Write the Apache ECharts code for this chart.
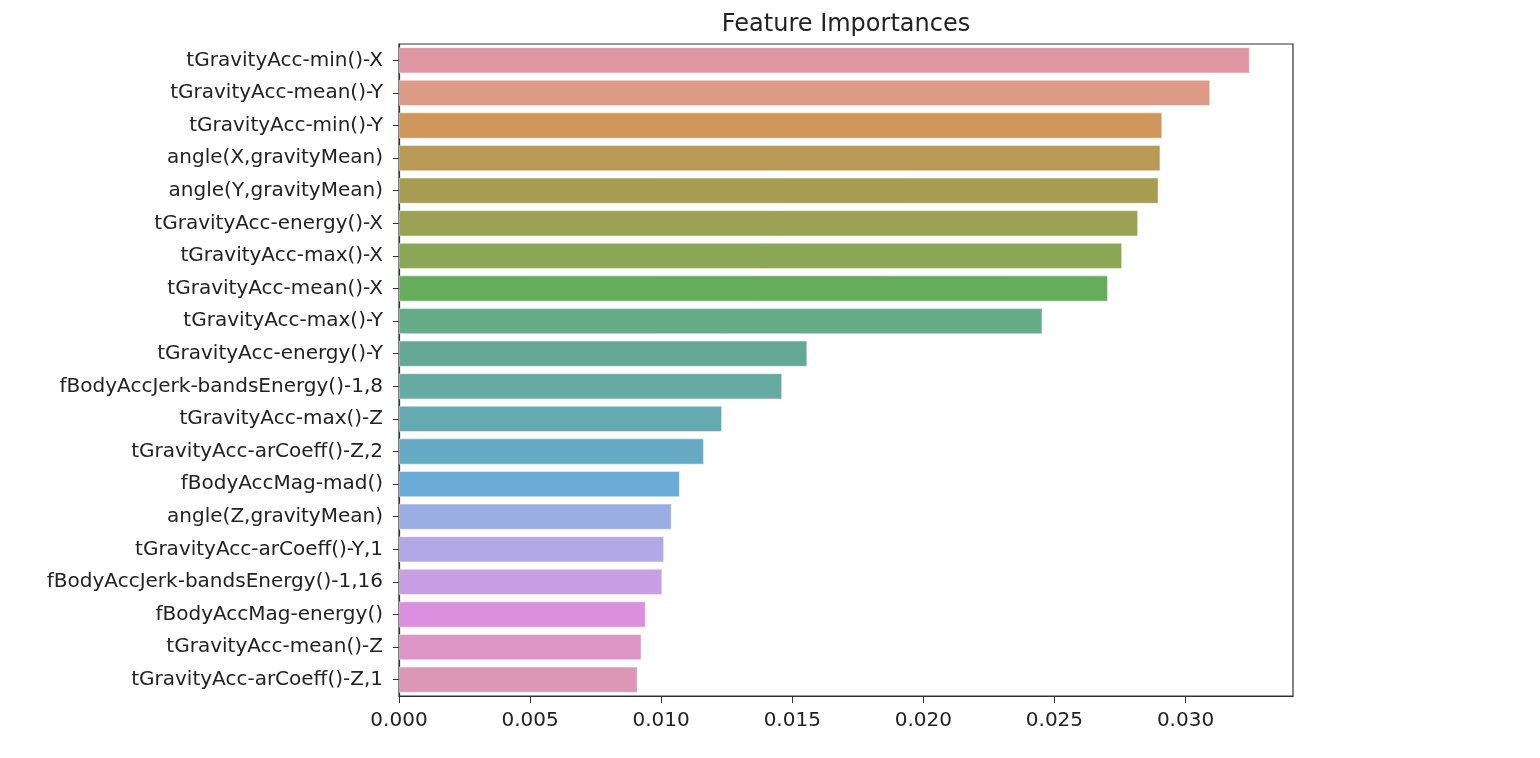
<!DOCTYPE html>
<html>
<head>
<meta charset="utf-8">
<script src="https://cdn.jsdelivr.net/npm/echarts@6/dist/echarts.min.js"></script>
<style>
html,body{margin:0;padding:0;background:#fff;}
#chart{width:1540px;height:758px;}
</style>
</head>
<body>
<div id="chart"></div>
<script>
const features = [
  "tGravityAcc-min()-X",
  "tGravityAcc-mean()-Y",
  "tGravityAcc-min()-Y",
  "angle(X,gravityMean)",
  "angle(Y,gravityMean)",
  "tGravityAcc-energy()-X",
  "tGravityAcc-max()-X",
  "tGravityAcc-mean()-X",
  "tGravityAcc-max()-Y",
  "tGravityAcc-energy()-Y",
  "fBodyAccJerk-bandsEnergy()-1,8",
  "tGravityAcc-max()-Z",
  "tGravityAcc-arCoeff()-Z,2",
  "fBodyAccMag-mad()",
  "angle(Z,gravityMean)",
  "tGravityAcc-arCoeff()-Y,1",
  "fBodyAccJerk-bandsEnergy()-1,16",
  "fBodyAccMag-energy()",
  "tGravityAcc-mean()-Z",
  "tGravityAcc-arCoeff()-Z,1"
];
const importances = [
  0.03245, 0.03094, 0.02911, 0.02904, 0.02897,
  0.02819, 0.02758, 0.02704, 0.02454, 0.01557,
  0.01461, 0.01232, 0.01163, 0.01071, 0.01040,
  0.01011, 0.01004, 0.00941, 0.00925, 0.00910
];
const barColors = [
  "#de97a2", "#dc9a87", "#cf965b", "#b89955", "#a89c52",
  "#9ba254", "#8aa755", "#65ac5c", "#66ab88", "#63a996",
  "#65aaa3", "#65aab0", "#67aac3", "#6aabd8", "#9aaee3",
  "#b3a8e6", "#c89fe4", "#da8fdf", "#dc95c7", "#dc97b5"
];
const xTicks = [0, 0.005, 0.010, 0.015, 0.020, 0.025, 0.030];
const xMax = 0.0341;

const chart = echarts.init(document.getElementById('chart'));
chart.setOption({
  animation: false,
  backgroundColor: '#ffffff',
  title: {
    text: 'Feature Importances',
    left: 841,
    textAlign: 'center',
    top: 8,
    textStyle: {fontFamily: 'DejaVu Sans', fontSize: 24, fontWeight: 'normal', color: '#222'}
  },
  grid: {
    left: 399, right: 247, top: 44, bottom: 62,
    show: true, borderColor: '#333', borderWidth: 1.2, backgroundColor: 'transparent'
  },
  xAxis: {
    type: 'value',
    min: 0,
    max: xMax,
    splitLine: {show: false},
    axisLine: {show: true, onZero: false, lineStyle: {color: '#333', width: 1.2}},
    axisTick: {show: true, length: 7, customValues: xTicks, lineStyle: {color: '#333'}},
    axisLabel: {
      customValues: xTicks,
      formatter: v => v.toFixed(3),
      fontFamily: 'DejaVu Sans', fontSize: 20, color: '#222', margin: 15
    }
  },
  yAxis: {
    type: 'category',
    inverse: true,
    data: features,
    axisLine: {show: true, lineStyle: {color: '#333', width: 1.2}},
    axisTick: {show: true, alignWithLabel: true, length: 6, lineStyle: {color: '#333'}},
    axisLabel: {fontFamily: 'DejaVu Sans', fontSize: 20, color: '#222', margin: 16}
  },
  series: [{
    type: 'bar',
    data: importances.map((v, i) => ({value: v, itemStyle: {color: barColors[i]}})),
    barCategoryGap: '20%',
    itemStyle: {borderColor: 'rgba(255,255,255,0.6)', borderWidth: 0.8}
  }]
});
</script>
</body>
</html>
